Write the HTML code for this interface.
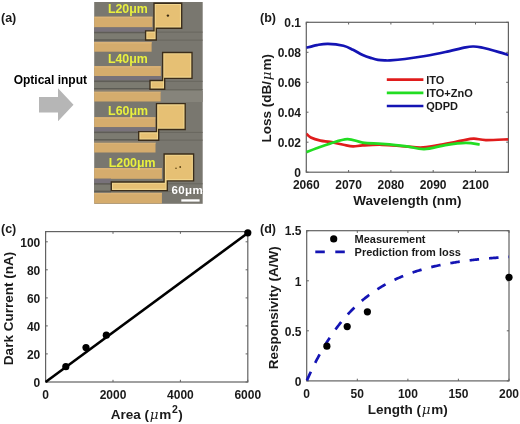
<!DOCTYPE html>
<html><head><meta charset="utf-8"><style>
html,body{margin:0;padding:0;background:#fff;}
svg{display:block;}
text{font-family:'Liberation Sans', Arial, sans-serif;font-weight:bold;fill:#1a1a1a;}
.tk{font-size:12px;}
.pl{font-size:12.5px;}
.al{font-size:13.5px;}
.lg{font-size:11px;}
.oi{font-size:12px;fill:#000;}
.yl{font-size:12.4px;fill:#e9f03e;}
.wl{font-size:11.5px;fill:#fff;letter-spacing:0.35px;}
.mu{font-family:'DejaVu Serif','Liberation Serif',serif;font-style:italic;font-weight:normal;}
</style></head><body>
<svg width="520" height="424" viewBox="0 0 520 424">
<text x="1" y="21.5" class="pl">(a)</text>
<text x="260" y="21.5" class="pl">(b)</text>
<text x="1" y="232.5" class="pl">(c)</text>
<text x="260" y="232.5" class="pl">(d)</text>
<g id="photo">
<rect x="94.2" y="2" width="108.49999999999999" height="201.8" fill="#79776f"/>
<rect x="94.2" y="16.7" width="58.2" height="10.8" fill="#d5ac6d"/>
<rect x="94.2" y="16.7" width="58.2" height="1.5" fill="#dcb57a" opacity="0.8"/>
<rect x="94.2" y="42" width="57.39999999999999" height="9.700000000000003" fill="#d5ac6d"/>
<rect x="94.2" y="42" width="57.39999999999999" height="1.5" fill="#dcb57a" opacity="0.8"/>
<rect x="94.2" y="66.1" width="66.60000000000001" height="10.100000000000009" fill="#d5ac6d"/>
<rect x="94.2" y="66.1" width="66.60000000000001" height="1.5" fill="#dcb57a" opacity="0.8"/>
<rect x="94.2" y="91.3" width="66.60000000000001" height="10.200000000000003" fill="#d5ac6d"/>
<rect x="94.2" y="91.3" width="66.60000000000001" height="1.5" fill="#dcb57a" opacity="0.8"/>
<rect x="94.2" y="117.2" width="61.3" height="10.099999999999994" fill="#d5ac6d"/>
<rect x="94.2" y="117.2" width="61.3" height="1.5" fill="#dcb57a" opacity="0.8"/>
<rect x="94.2" y="142.4" width="61.3" height="10.099999999999994" fill="#d5ac6d"/>
<rect x="94.2" y="142.4" width="61.3" height="1.5" fill="#dcb57a" opacity="0.8"/>
<rect x="94.2" y="168" width="67.7" height="10.800000000000011" fill="#d5ac6d"/>
<rect x="94.2" y="168" width="67.7" height="1.5" fill="#dcb57a" opacity="0.8"/>
<rect x="94.2" y="192.8" width="67.7" height="10.699999999999989" fill="#d5ac6d"/>
<rect x="94.2" y="192.8" width="67.7" height="1.5" fill="#dcb57a" opacity="0.8"/>
<rect x="94.2" y="27.50" width="58.20" height="14.50" fill="#7b7a70"/>
<rect x="94.2" y="27.50" width="58.20" height="4.30" fill="#78727a"/>
<rect x="94.2" y="31.80" width="58.20" height="1.70" fill="#5f5d57"/>
<rect x="94.2" y="33.50" width="58.20" height="5.80" fill="#7c7b71"/>
<rect x="94.2" y="39.30" width="58.20" height="1.60" fill="#5c5b54"/>
<rect x="94.2" y="40.90" width="58.20" height="1.10" fill="#8a8072"/>
<rect x="94.2" y="76.20" width="66.60" height="15.10" fill="#7b7a70"/>
<rect x="94.2" y="76.20" width="66.60" height="4.30" fill="#78727a"/>
<rect x="94.2" y="80.50" width="66.60" height="1.70" fill="#5f5d57"/>
<rect x="94.2" y="82.20" width="66.60" height="5.80" fill="#7c7b71"/>
<rect x="94.2" y="88.00" width="66.60" height="1.60" fill="#5c5b54"/>
<rect x="94.2" y="89.60" width="66.60" height="1.70" fill="#8a8072"/>
<rect x="94.2" y="127.30" width="61.30" height="15.10" fill="#7b7a70"/>
<rect x="94.2" y="127.30" width="61.30" height="4.30" fill="#78727a"/>
<rect x="94.2" y="131.60" width="61.30" height="1.70" fill="#5f5d57"/>
<rect x="94.2" y="133.30" width="61.30" height="5.80" fill="#7c7b71"/>
<rect x="94.2" y="139.10" width="61.30" height="1.60" fill="#5c5b54"/>
<rect x="94.2" y="140.70" width="61.30" height="1.70" fill="#8a8072"/>
<rect x="94.2" y="178.80" width="16.80" height="14.00" fill="#7b7a70"/>
<rect x="94.2" y="178.80" width="16.80" height="4.30" fill="#78727a"/>
<rect x="94.2" y="183.10" width="16.80" height="1.70" fill="#5f5d57"/>
<rect x="94.2" y="184.80" width="16.80" height="5.80" fill="#7c7b71"/>
<rect x="94.2" y="190.60" width="16.80" height="1.60" fill="#5c5b54"/>
<rect x="94.2" y="192.20" width="16.80" height="0.60" fill="#8a8072"/>
<rect x="160.8" y="90.8" width="41.9" height="11.2" fill="#86847b"/>
<rect x="150" y="31.6" width="52.69999999999999" height="1.1" fill="#66645c" opacity="0.8"/>
<rect x="150" y="39.6" width="52.69999999999999" height="1.1" fill="#66645c" opacity="0.8"/>
<rect x="150" y="80.8" width="52.69999999999999" height="1.1" fill="#66645c" opacity="0.8"/>
<rect x="150" y="89.0" width="52.69999999999999" height="1.1" fill="#66645c" opacity="0.8"/>
<rect x="150" y="131.9" width="52.69999999999999" height="1.1" fill="#66645c" opacity="0.8"/>
<rect x="150" y="139.6" width="52.69999999999999" height="1.1" fill="#66645c" opacity="0.8"/>
<rect x="150" y="183.2" width="52.69999999999999" height="1.1" fill="#66645c" opacity="0.8"/>
<rect x="150" y="191" width="52.69999999999999" height="1.1" fill="#66645c" opacity="0.8"/>
<clipPath id="pc1"><path d="M154.0,3.2 L181.7,3.2 L181.7,28.2 L156.3,28.2 L156.3,30.9 L156.3,30.9 L156.3,40.0 L145.6,40.0 L145.6,30.9 L154.0,30.9 Z"/></clipPath><path d="M154.0,3.2 L181.7,3.2 L181.7,28.2 L156.3,28.2 L156.3,30.9 L156.3,30.9 L156.3,40.0 L145.6,40.0 L145.6,30.9 L154.0,30.9 Z" fill="#e6c074"/><path d="M154.0,3.2 L181.7,3.2 L181.7,28.2 L156.3,28.2 L156.3,30.9 L156.3,30.9 L156.3,40.0 L145.6,40.0 L145.6,30.9 L154.0,30.9 Z" fill="none" stroke="#f0d58e" stroke-width="3.6" clip-path="url(#pc1)"/><path d="M154.0,3.2 L181.7,3.2 L181.7,28.2 L156.3,28.2 L156.3,30.9 L156.3,30.9 L156.3,40.0 L145.6,40.0 L145.6,30.9 L154.0,30.9 Z" fill="none" stroke="#3a2c1a" stroke-width="1.35" stroke-linejoin="miter"/>
<clipPath id="pc2"><path d="M162.6,52.5 L192.0,52.5 L192.0,78.4 L164.7,78.4 L164.7,80.5 L164.7,80.5 L164.7,89.2 L150.0,89.2 L150.0,80.5 L162.6,80.5 Z"/></clipPath><path d="M162.6,52.5 L192.0,52.5 L192.0,78.4 L164.7,78.4 L164.7,80.5 L164.7,80.5 L164.7,89.2 L150.0,89.2 L150.0,80.5 L162.6,80.5 Z" fill="#e6c074"/><path d="M162.6,52.5 L192.0,52.5 L192.0,78.4 L164.7,78.4 L164.7,80.5 L164.7,80.5 L164.7,89.2 L150.0,89.2 L150.0,80.5 L162.6,80.5 Z" fill="none" stroke="#f0d58e" stroke-width="3.6" clip-path="url(#pc2)"/><path d="M162.6,52.5 L192.0,52.5 L192.0,78.4 L164.7,78.4 L164.7,80.5 L164.7,80.5 L164.7,89.2 L150.0,89.2 L150.0,80.5 L162.6,80.5 Z" fill="none" stroke="#3a2c1a" stroke-width="1.35" stroke-linejoin="miter"/>
<clipPath id="pc3"><path d="M156.5,103.6 L185.2,103.6 L185.2,129.5 L158.7,129.5 L158.7,131.6 L158.7,131.6 L158.7,140.2 L138.7,140.2 L138.7,131.6 L156.5,131.6 Z"/></clipPath><path d="M156.5,103.6 L185.2,103.6 L185.2,129.5 L158.7,129.5 L158.7,131.6 L158.7,131.6 L158.7,140.2 L138.7,140.2 L138.7,131.6 L156.5,131.6 Z" fill="#e6c074"/><path d="M156.5,103.6 L185.2,103.6 L185.2,129.5 L158.7,129.5 L158.7,131.6 L158.7,131.6 L158.7,140.2 L138.7,140.2 L138.7,131.6 L156.5,131.6 Z" fill="none" stroke="#f0d58e" stroke-width="3.6" clip-path="url(#pc3)"/><path d="M156.5,103.6 L185.2,103.6 L185.2,129.5 L158.7,129.5 L158.7,131.6 L158.7,131.6 L158.7,140.2 L138.7,140.2 L138.7,131.6 L156.5,131.6 Z" fill="none" stroke="#3a2c1a" stroke-width="1.35" stroke-linejoin="miter"/>
<clipPath id="pc4"><path d="M164.1,154.0 L193.6,154.0 L193.6,180.9 L167.3,180.9 L167.3,182.0 L167.3,182.0 L167.3,190.6 L111.3,190.6 L111.3,182.0 L164.1,182.0 Z"/></clipPath><path d="M164.1,154.0 L193.6,154.0 L193.6,180.9 L167.3,180.9 L167.3,182.0 L167.3,182.0 L167.3,190.6 L111.3,190.6 L111.3,182.0 L164.1,182.0 Z" fill="#e6c074"/><path d="M164.1,154.0 L193.6,154.0 L193.6,180.9 L167.3,180.9 L167.3,182.0 L167.3,182.0 L167.3,190.6 L111.3,190.6 L111.3,182.0 L164.1,182.0 Z" fill="none" stroke="#f0d58e" stroke-width="3.6" clip-path="url(#pc4)"/><path d="M164.1,154.0 L193.6,154.0 L193.6,180.9 L167.3,180.9 L167.3,182.0 L167.3,182.0 L167.3,190.6 L111.3,190.6 L111.3,182.0 L164.1,182.0 Z" fill="none" stroke="#3a2c1a" stroke-width="1.35" stroke-linejoin="miter"/>
<circle cx="167.9" cy="15.6" r="1.2" fill="#3a2a10"/>
<circle cx="180.2" cy="167" r="0.9" fill="#5a4010"/><circle cx="176" cy="168.2" r="0.8" fill="#5a4010"/>
<text x="107.9" y="13.1" class="yl">L20μm</text>
<text x="107.9" y="63.1" class="yl">L40μm</text>
<text x="108.1" y="115.2" class="yl">L60μm</text>
<text x="108.7" y="167.2" class="yl">L200μm</text>
<text x="171.6" y="194" class="wl">60μm</text>
<rect x="181.3" y="199.3" width="18.3" height="2.3" fill="#fff"/>
</g>
<text x="13.7" y="83.7" class="oi">Optical input</text>
<path d="M39,97.1 L58,97.1 L58,88.3 L73.5,104.8 L58,121.3 L58,112.4 L39,112.4 Z" fill="#b6b6b6"/>
<rect x="306.3" y="22.3" width="202.09999999999997" height="149.89999999999998" fill="#fff" stroke="#626262" stroke-width="1.2"/>
<line x1="306.3" y1="172.2" x2="306.3" y2="170.0" stroke="#626262" stroke-width="1"/>
<line x1="306.3" y1="22.3" x2="306.3" y2="24.5" stroke="#626262" stroke-width="1"/>
<text x="306.3" y="189.2" text-anchor="middle" class="tk">2060</text>
<line x1="348.6" y1="172.2" x2="348.6" y2="170.0" stroke="#626262" stroke-width="1"/>
<line x1="348.6" y1="22.3" x2="348.6" y2="24.5" stroke="#626262" stroke-width="1"/>
<text x="348.6" y="189.2" text-anchor="middle" class="tk">2070</text>
<line x1="390.9" y1="172.2" x2="390.9" y2="170.0" stroke="#626262" stroke-width="1"/>
<line x1="390.9" y1="22.3" x2="390.9" y2="24.5" stroke="#626262" stroke-width="1"/>
<text x="390.9" y="189.2" text-anchor="middle" class="tk">2080</text>
<line x1="433.2" y1="172.2" x2="433.2" y2="170.0" stroke="#626262" stroke-width="1"/>
<line x1="433.2" y1="22.3" x2="433.2" y2="24.5" stroke="#626262" stroke-width="1"/>
<text x="433.2" y="189.2" text-anchor="middle" class="tk">2090</text>
<line x1="475.5" y1="172.2" x2="475.5" y2="170.0" stroke="#626262" stroke-width="1"/>
<line x1="475.5" y1="22.3" x2="475.5" y2="24.5" stroke="#626262" stroke-width="1"/>
<text x="475.5" y="189.2" text-anchor="middle" class="tk">2100</text>
<line x1="306.3" y1="172.2" x2="308.5" y2="172.2" stroke="#626262" stroke-width="1"/>
<line x1="508.4" y1="172.2" x2="506.2" y2="172.2" stroke="#626262" stroke-width="1"/>
<text x="301.0" y="176.89999999999998" text-anchor="end" class="tk">0</text>
<line x1="306.3" y1="142.2" x2="308.5" y2="142.2" stroke="#626262" stroke-width="1"/>
<line x1="508.4" y1="142.2" x2="506.2" y2="142.2" stroke="#626262" stroke-width="1"/>
<text x="301.0" y="146.89999999999998" text-anchor="end" class="tk">0.02</text>
<line x1="306.3" y1="112.2" x2="308.5" y2="112.2" stroke="#626262" stroke-width="1"/>
<line x1="508.4" y1="112.2" x2="506.2" y2="112.2" stroke="#626262" stroke-width="1"/>
<text x="301.0" y="116.9" text-anchor="end" class="tk">0.04</text>
<line x1="306.3" y1="82.3" x2="308.5" y2="82.3" stroke="#626262" stroke-width="1"/>
<line x1="508.4" y1="82.3" x2="506.2" y2="82.3" stroke="#626262" stroke-width="1"/>
<text x="301.0" y="87.0" text-anchor="end" class="tk">0.06</text>
<line x1="306.3" y1="52.3" x2="308.5" y2="52.3" stroke="#626262" stroke-width="1"/>
<line x1="508.4" y1="52.3" x2="506.2" y2="52.3" stroke="#626262" stroke-width="1"/>
<text x="301.0" y="57.0" text-anchor="end" class="tk">0.08</text>
<line x1="306.3" y1="22.3" x2="308.5" y2="22.3" stroke="#626262" stroke-width="1"/>
<line x1="508.4" y1="22.3" x2="506.2" y2="22.3" stroke="#626262" stroke-width="1"/>
<text x="301.0" y="27.0" text-anchor="end" class="tk">0.1</text>
<clipPath id="cb"><rect x="306.3" y="22.3" width="202.09999999999997" height="149.89999999999998"/></clipPath>
<g clip-path="url(#cb)" fill="none" stroke-width="2.7" stroke-linejoin="round">
<path d="M306.30,133.70 C307.05,134.33 308.45,136.35 310.80,137.50 C313.15,138.65 317.20,139.87 320.40,140.60 C323.60,141.33 326.15,141.20 330.00,141.90 C333.85,142.60 339.67,144.05 343.50,144.80 C347.33,145.55 349.80,146.30 353.00,146.40 C356.20,146.50 357.87,145.67 362.70,145.40 C367.53,145.13 374.95,144.63 382.00,144.80 C389.05,144.97 398.13,145.97 405.00,146.40 C411.87,146.83 416.47,147.83 423.20,147.40 C429.93,146.97 439.02,144.92 445.40,143.80 C451.78,142.68 456.78,141.55 461.50,140.70 C466.22,139.85 469.65,138.80 473.70,138.70 C477.75,138.60 480.02,140.00 485.80,140.10 C491.58,140.20 504.63,139.43 508.40,139.30" stroke="#e01c1c"/>
<path d="M306.30,152.30 C308.00,151.63 312.55,149.75 316.50,148.30 C320.45,146.85 324.87,145.13 330.00,143.60 C335.13,142.07 341.85,139.27 347.30,139.10 C352.75,138.93 356.92,141.80 362.70,142.60 C368.48,143.40 374.95,143.32 382.00,143.90 C389.05,144.48 397.97,145.23 405.00,146.10 C412.03,146.97 417.47,149.27 424.20,149.10 C430.93,148.93 438.50,146.13 445.40,145.10 C452.30,144.07 459.88,143.00 465.60,142.90 C471.32,142.80 477.35,144.23 479.70,144.50" stroke="#22dd22"/>
<path d="M306.30,47.80 C308.08,47.35 313.38,45.77 317.00,45.10 C320.62,44.43 323.58,43.68 328.00,43.80 C332.42,43.92 339.33,44.80 343.50,45.80 C347.67,46.80 349.80,48.27 353.00,49.80 C356.20,51.33 359.53,53.58 362.70,55.00 C365.87,56.42 369.45,57.50 372.00,58.30 C374.55,59.10 375.90,59.45 378.00,59.80 C380.10,60.15 382.60,60.30 384.60,60.40 C386.60,60.50 386.60,60.63 390.00,60.40 C393.40,60.17 399.13,59.73 405.00,59.00 C410.87,58.27 418.47,57.17 425.20,56.00 C431.93,54.83 438.67,53.45 445.40,52.00 C452.13,50.55 460.88,48.22 465.60,47.30 C470.32,46.38 471.13,46.50 473.70,46.50 C476.27,46.50 478.32,46.80 481.00,47.30 C483.68,47.80 486.80,48.70 489.80,49.50 C492.80,50.30 495.90,51.18 499.00,52.10 C502.10,53.02 506.83,54.52 508.40,55.00" stroke="#1414b4"/>
</g>
<line x1="386.8" y1="79.6" x2="423.4" y2="79.6" stroke="#e01c1c" stroke-width="2.7"/>
<line x1="386.8" y1="92.8" x2="423.4" y2="92.8" stroke="#22dd22" stroke-width="2.7"/>
<line x1="386.8" y1="106" x2="423.4" y2="106" stroke="#1414b4" stroke-width="2.7"/>
<text x="426.2" y="83.5" class="lg">ITO</text>
<text x="426.2" y="96.7" class="lg">ITO+ZnO</text>
<text x="426.2" y="109.9" class="lg">QDPD</text>
<text x="407.3" y="204.6" text-anchor="middle" class="al">Wavelength (nm)</text>
<text transform="translate(270.9,98.2) rotate(-90)" text-anchor="middle" class="al">Loss (dB/<tspan class="mu" dx="0.7">μ</tspan><tspan dx="0.9">m</tspan>)</text>
<rect x="45.6" y="231.6" width="202.20000000000002" height="150.4" fill="#fff" stroke="#626262" stroke-width="1.2"/>
<line x1="45.6" y1="382" x2="45.6" y2="379.8" stroke="#626262" stroke-width="1"/>
<line x1="45.6" y1="231.6" x2="45.6" y2="233.79999999999998" stroke="#626262" stroke-width="1"/>
<text x="45.6" y="399" text-anchor="middle" class="tk">0</text>
<line x1="113.0" y1="382" x2="113.0" y2="379.8" stroke="#626262" stroke-width="1"/>
<line x1="113.0" y1="231.6" x2="113.0" y2="233.79999999999998" stroke="#626262" stroke-width="1"/>
<text x="113.0" y="399" text-anchor="middle" class="tk">2000</text>
<line x1="180.4" y1="382" x2="180.4" y2="379.8" stroke="#626262" stroke-width="1"/>
<line x1="180.4" y1="231.6" x2="180.4" y2="233.79999999999998" stroke="#626262" stroke-width="1"/>
<text x="180.4" y="399" text-anchor="middle" class="tk">4000</text>
<line x1="247.8" y1="382" x2="247.8" y2="379.8" stroke="#626262" stroke-width="1"/>
<line x1="247.8" y1="231.6" x2="247.8" y2="233.79999999999998" stroke="#626262" stroke-width="1"/>
<text x="247.8" y="399" text-anchor="middle" class="tk">6000</text>
<line x1="45.6" y1="382.0" x2="47.800000000000004" y2="382.0" stroke="#626262" stroke-width="1"/>
<line x1="247.8" y1="382.0" x2="245.60000000000002" y2="382.0" stroke="#626262" stroke-width="1"/>
<text x="40.300000000000004" y="386.7" text-anchor="end" class="tk">0</text>
<line x1="45.6" y1="353.9" x2="47.800000000000004" y2="353.9" stroke="#626262" stroke-width="1"/>
<line x1="247.8" y1="353.9" x2="245.60000000000002" y2="353.9" stroke="#626262" stroke-width="1"/>
<text x="40.300000000000004" y="358.59999999999997" text-anchor="end" class="tk">20</text>
<line x1="45.6" y1="325.9" x2="47.800000000000004" y2="325.9" stroke="#626262" stroke-width="1"/>
<line x1="247.8" y1="325.9" x2="245.60000000000002" y2="325.9" stroke="#626262" stroke-width="1"/>
<text x="40.300000000000004" y="330.59999999999997" text-anchor="end" class="tk">40</text>
<line x1="45.6" y1="297.9" x2="47.800000000000004" y2="297.9" stroke="#626262" stroke-width="1"/>
<line x1="247.8" y1="297.9" x2="245.60000000000002" y2="297.9" stroke="#626262" stroke-width="1"/>
<text x="40.300000000000004" y="302.59999999999997" text-anchor="end" class="tk">60</text>
<line x1="45.6" y1="269.8" x2="47.800000000000004" y2="269.8" stroke="#626262" stroke-width="1"/>
<line x1="247.8" y1="269.8" x2="245.60000000000002" y2="269.8" stroke="#626262" stroke-width="1"/>
<text x="40.300000000000004" y="274.5" text-anchor="end" class="tk">80</text>
<line x1="45.6" y1="241.8" x2="47.800000000000004" y2="241.8" stroke="#626262" stroke-width="1"/>
<line x1="247.8" y1="241.8" x2="245.60000000000002" y2="241.8" stroke="#626262" stroke-width="1"/>
<text x="40.300000000000004" y="246.5" text-anchor="end" class="tk">100</text>
<line x1="45.6" y1="382" x2="247.79999999999998" y2="233.0545" stroke="#000" stroke-width="2.6" stroke-linecap="butt"/>
<circle cx="65.8" cy="366.7" r="3.6" fill="#000"/>
<circle cx="86.0" cy="347.6" r="3.6" fill="#000"/>
<circle cx="106.3" cy="335.2" r="3.6" fill="#000"/>
<circle cx="247.8" cy="232.8" r="3.6" fill="#000"/>
<text x="146.7" y="419.4" text-anchor="middle" class="al">Area (<tspan class="mu" dx="0.7">μ</tspan><tspan dx="0.9">m</tspan><tspan dy="-6.2" dx="0.6" font-size="10.5">2</tspan><tspan dy="6.2" dx="0.4">)</tspan></text>
<text transform="translate(13.2,308.5) rotate(-90)" text-anchor="middle" class="al">Dark Current (nA)</text>
<rect x="306.7" y="230.7" width="202.3" height="150.2" fill="#fff" stroke="#626262" stroke-width="1.2"/>
<line x1="306.7" y1="380.9" x2="306.7" y2="378.7" stroke="#626262" stroke-width="1"/>
<line x1="306.7" y1="230.7" x2="306.7" y2="232.89999999999998" stroke="#626262" stroke-width="1"/>
<text x="306.7" y="397.9" text-anchor="middle" class="tk">0</text>
<line x1="357.3" y1="380.9" x2="357.3" y2="378.7" stroke="#626262" stroke-width="1"/>
<line x1="357.3" y1="230.7" x2="357.3" y2="232.89999999999998" stroke="#626262" stroke-width="1"/>
<text x="357.3" y="397.9" text-anchor="middle" class="tk">50</text>
<line x1="407.9" y1="380.9" x2="407.9" y2="378.7" stroke="#626262" stroke-width="1"/>
<line x1="407.9" y1="230.7" x2="407.9" y2="232.89999999999998" stroke="#626262" stroke-width="1"/>
<text x="407.9" y="397.9" text-anchor="middle" class="tk">100</text>
<line x1="458.4" y1="380.9" x2="458.4" y2="378.7" stroke="#626262" stroke-width="1"/>
<line x1="458.4" y1="230.7" x2="458.4" y2="232.89999999999998" stroke="#626262" stroke-width="1"/>
<text x="458.4" y="397.9" text-anchor="middle" class="tk">150</text>
<line x1="509.0" y1="380.9" x2="509.0" y2="378.7" stroke="#626262" stroke-width="1"/>
<line x1="509.0" y1="230.7" x2="509.0" y2="232.89999999999998" stroke="#626262" stroke-width="1"/>
<text x="509.0" y="397.9" text-anchor="middle" class="tk">200</text>
<line x1="306.7" y1="380.9" x2="308.9" y2="380.9" stroke="#626262" stroke-width="1"/>
<line x1="509" y1="380.9" x2="506.8" y2="380.9" stroke="#626262" stroke-width="1"/>
<text x="301.4" y="385.59999999999997" text-anchor="end" class="tk">0</text>
<line x1="306.7" y1="330.8" x2="308.9" y2="330.8" stroke="#626262" stroke-width="1"/>
<line x1="509" y1="330.8" x2="506.8" y2="330.8" stroke="#626262" stroke-width="1"/>
<text x="301.4" y="335.5" text-anchor="end" class="tk">0.5</text>
<line x1="306.7" y1="280.8" x2="308.9" y2="280.8" stroke="#626262" stroke-width="1"/>
<line x1="509" y1="280.8" x2="506.8" y2="280.8" stroke="#626262" stroke-width="1"/>
<text x="301.4" y="285.5" text-anchor="end" class="tk">1</text>
<line x1="306.7" y1="230.7" x2="308.9" y2="230.7" stroke="#626262" stroke-width="1"/>
<line x1="509" y1="230.7" x2="506.8" y2="230.7" stroke="#626262" stroke-width="1"/>
<text x="301.4" y="235.39999999999998" text-anchor="end" class="tk">1.5</text>
<path d="M306.70,380.90 L307.71,378.61 L308.72,376.35 L309.73,374.14 L310.75,371.97 L311.76,369.83 L312.77,367.74 L313.78,365.68 L314.79,363.66 L315.80,361.67 L316.81,359.73 L317.83,357.81 L318.84,355.93 L319.85,354.09 L320.86,352.28 L321.87,350.50 L322.88,348.75 L323.90,347.03 L324.91,345.35 L325.92,343.70 L326.93,342.07 L327.94,340.48 L328.95,338.91 L329.96,337.37 L330.98,335.86 L331.99,334.38 L333.00,332.92 L334.01,331.49 L335.02,330.08 L336.03,328.71 L337.04,327.35 L338.06,326.02 L339.07,324.71 L340.08,323.43 L341.09,322.17 L342.10,320.94 L343.11,319.72 L344.13,318.53 L345.14,317.36 L346.15,316.21 L347.16,315.08 L348.17,313.97 L349.18,312.88 L350.19,311.81 L351.21,310.76 L352.22,309.73 L353.23,308.72 L354.24,307.72 L355.25,306.75 L356.26,305.79 L357.27,304.85 L358.29,303.92 L359.30,303.01 L360.31,302.12 L361.32,301.25 L362.33,300.39 L363.34,299.54 L364.36,298.71 L365.37,297.90 L366.38,297.10 L367.39,296.32 L368.40,295.54 L369.41,294.79 L370.42,294.04 L371.44,293.31 L372.45,292.60 L373.46,291.89 L374.47,291.20 L375.48,290.52 L376.49,289.86 L377.50,289.20 L378.52,288.56 L379.53,287.93 L380.54,287.31 L381.55,286.70 L382.56,286.10 L383.57,285.52 L384.59,284.94 L385.60,284.37 L386.61,283.82 L387.62,283.27 L388.63,282.74 L389.64,282.21 L390.65,281.69 L391.67,281.19 L392.68,280.69 L393.69,280.20 L394.70,279.72 L395.71,279.25 L396.72,278.78 L397.74,278.33 L398.75,277.88 L399.76,277.44 L400.77,277.01 L401.78,276.59 L402.79,276.17 L403.80,275.76 L404.82,275.36 L405.83,274.97 L406.84,274.58 L407.85,274.21 L408.86,273.83 L409.87,273.47 L410.88,273.11 L411.90,272.75 L412.91,272.41 L413.92,272.07 L414.93,271.73 L415.94,271.41 L416.95,271.08 L417.96,270.77 L418.98,270.46 L419.99,270.15 L421.00,269.85 L422.01,269.56 L423.02,269.27 L424.03,268.99 L425.05,268.71 L426.06,268.43 L427.07,268.17 L428.08,267.90 L429.09,267.64 L430.10,267.39 L431.11,267.14 L432.13,266.89 L433.14,266.65 L434.15,266.42 L435.16,266.18 L436.17,265.96 L437.18,265.73 L438.19,265.51 L439.21,265.30 L440.22,265.09 L441.23,264.88 L442.24,264.67 L443.25,264.47 L444.26,264.27 L445.28,264.08 L446.29,263.89 L447.30,263.70 L448.31,263.52 L449.32,263.34 L450.33,263.16 L451.34,262.99 L452.36,262.82 L453.37,262.65 L454.38,262.49 L455.39,262.33 L456.40,262.17 L457.41,262.01 L458.42,261.86 L459.44,261.71 L460.45,261.56 L461.46,261.42 L462.47,261.28 L463.48,261.14 L464.49,261.00 L465.51,260.86 L466.52,260.73 L467.53,260.60 L468.54,260.48 L469.55,260.35 L470.56,260.23 L471.57,260.11 L472.59,259.99 L473.60,259.87 L474.61,259.76 L475.62,259.65 L476.63,259.54 L477.64,259.43 L478.65,259.32 L479.67,259.22 L480.68,259.11 L481.69,259.01 L482.70,258.91 L483.71,258.82 L484.72,258.72 L485.74,258.63 L486.75,258.54 L487.76,258.45 L488.77,258.36 L489.78,258.27 L490.79,258.19 L491.80,258.10 L492.82,258.02 L493.83,257.94 L494.84,257.86 L495.85,257.78 L496.86,257.70 L497.87,257.63 L498.88,257.56 L499.90,257.48 L500.91,257.41 L501.92,257.34 L502.93,257.27 L503.94,257.21 L504.95,257.14 L505.97,257.07 L506.98,257.01 L507.99,256.95 L509.00,256.89" fill="none" stroke="#1414b4" stroke-width="2.7" stroke-dasharray="9.5 10" stroke-dashoffset="-0.5"/>
<circle cx="326.9" cy="346.2" r="3.6" fill="#000"/>
<circle cx="347.2" cy="326.6" r="3.6" fill="#000"/>
<circle cx="367.4" cy="311.8" r="3.6" fill="#000"/>
<circle cx="509.0" cy="277.3" r="3.6" fill="#000"/>
<circle cx="333.7" cy="238.9" r="3.6" fill="#000"/>
<line x1="315.3" y1="251.8" x2="345" y2="251.8" stroke="#1414b4" stroke-width="2.7" stroke-dasharray="9.5 10.5"/>
<text x="354.6" y="242.8" class="lg">Measurement</text>
<text x="354.6" y="255.7" class="lg">Prediction from loss</text>
<text x="407.8" y="414.2" text-anchor="middle" class="al">Length (<tspan class="mu" dx="0.7">μ</tspan><tspan dx="0.9">m</tspan>)</text>
<text transform="translate(278.1,307.8) rotate(-90)" text-anchor="middle" class="al">Responsivity (A/W)</text>
</svg>
</body></html>
